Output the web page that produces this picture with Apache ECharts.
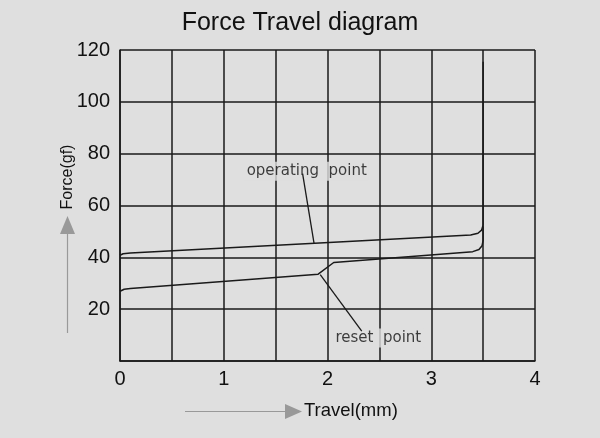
<!DOCTYPE html>
<html>
<head>
<meta charset="utf-8">
<script src="https://cdn.jsdelivr.net/npm/echarts@6/dist/echarts.min.js"></script>
<style>
html,body{margin:0;padding:0;background:#dfdfdf;}
#chart{width:600px;height:438px;}
</style>
</head>
<body>
<div id="chart"></div>
<script>
// Data
var titleText = 'Force Travel diagram';
var xAxisName = 'Travel(mm)';
var yAxisName = 'Force(gf)';
var operatingCurve = [[0,40.8],[0.03,41.4],[0.1,41.7],[3.38,48.6],[3.45,49.3],[3.485,50.5],[3.5,52.5],[3.5,115.5]];
var resetCurve = [[0,26.9],[0.04,27.7],[0.1,28.0],[1.91,33.5],[2.06,38.0],[3.4,42.2],[3.46,43.0],[3.49,44.5],[3.5,46.5],[3.5,52]];
var operatingLeader = [[1.76,72.3],[1.87,45.5]];
var resetLeader = [[1.93,33.3],[2.33,11.5]];
var operatingLabel = {text:'operating  point', pos:[1.8,73.2]};
var resetLabel = {text:'reset  point', pos:[2.49,8.9]};

var chart = echarts.init(document.getElementById('chart'));
var black = '#1a1a1a';
var option = {
  backgroundColor:'#dfdfdf',
  animation:false,
  title:{text:titleText,left:'center',top:6,textStyle:{fontFamily:'Liberation Sans, Arial',fontSize:25,fontWeight:'normal',color:'#111'}},
  grid:{left:120,right:65,top:50,bottom:77},
  xAxis:{type:'value',min:0,max:4,interval:0.5,
    axisLine:{lineStyle:{color:black,width:1.5}},
    axisTick:{show:false},
    axisLabel:{margin:8,fontFamily:'Liberation Sans, Arial',fontSize:20,color:'#111',
      formatter:function(v){return Math.abs(v-Math.round(v))<1e-6?String(Math.round(v)):'';}},
    splitLine:{show:true,lineStyle:{color:black,width:1.5}}},
  yAxis:{type:'value',min:0,max:120,interval:20,
    axisLine:{lineStyle:{color:black,width:1.5}},
    axisTick:{show:false},
    axisLabel:{margin:10,fontFamily:'Liberation Sans, Arial',fontSize:20,color:'#111',
      formatter:function(v){return v===0?'':String(v);}},
    splitLine:{show:true,lineStyle:{color:black,width:1.5}}},
  graphic:[
    {type:'line',shape:{x1:67.5,y1:333,x2:67.5,y2:234},style:{stroke:'#999',lineWidth:1.2},z:10},
    {type:'polygon',shape:{points:[[60,234],[75,234],[67.5,216]]},style:{fill:'#999'},z:10},
    {type:'text',x:68,y:177,rotation:Math.PI/2,style:{text:yAxisName,fontFamily:'Liberation Sans, Arial',fontSize:16,fill:'#111',align:'center',verticalAlign:'middle'},z:10},
    {type:'line',shape:{x1:185,y1:411.5,x2:285,y2:411.5},style:{stroke:'#999',lineWidth:1.2},z:10},
    {type:'polygon',shape:{points:[[285,404],[285,419],[302,411.5]]},style:{fill:'#999'},z:10},
    {type:'text',x:304,y:411,style:{text:xAxisName,fontFamily:'Liberation Sans, Arial',fontSize:18.5,fill:'#111',align:'left',verticalAlign:'middle'},z:10}
  ],
  series:[
    {type:'line',data:operatingCurve,symbol:'none',lineStyle:{color:black,width:1.5},z:5},
    {type:'line',data:resetCurve,symbol:'none',lineStyle:{color:black,width:1.5},z:5},
    {type:'scatter',symbolSize:0,z:6,data:[operatingLabel.pos,resetLabel.pos].map(function(p,i){
      return {value:p,label:{show:true,position:'inside',formatter:[operatingLabel.text,resetLabel.text][i],
        fontFamily:'DejaVu Sans',fontSize:15,color:'#111',backgroundColor:'#dfdfdf',padding:[2,2]}};
    })},
    {type:'line',data:operatingLeader,symbol:'none',lineStyle:{color:black,width:1.3},z:7},
    {type:'line',data:resetLeader,symbol:'none',lineStyle:{color:black,width:1.3},z:7}
  ]
};
chart.setOption(option);
</script>
</body>
</html>
